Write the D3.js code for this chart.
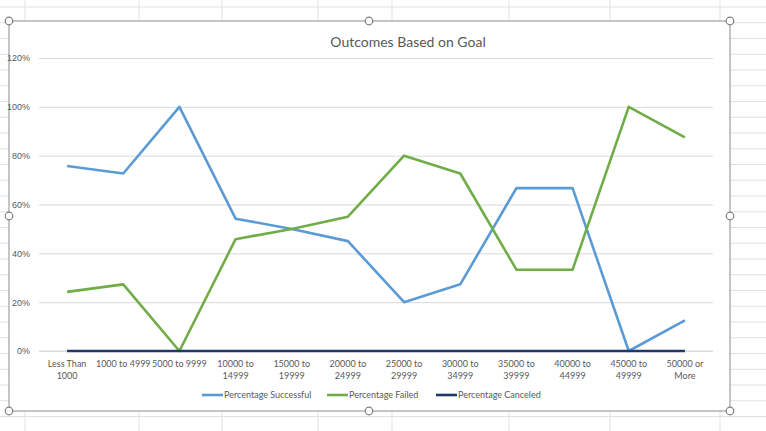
<!DOCTYPE html>
<html>
<head>
<meta charset="utf-8">
<script src="https://cdn.jsdelivr.net/npm/d3@7"></script>
<style>
  html, body { margin: 0; padding: 0; background: #fff; }
  svg { display: block; font-family: Lato, "Liberation Sans", sans-serif; }
</style>
</head>
<body>
<div id="chart"></div>
<script>
// Outcomes by goal bracket (percent)
const categories = ["Less Than 1000", "1000 to 4999", "5000 to 9999", "10000 to 14999",
    "15000 to 19999", "20000 to 24999", "25000 to 29999", "30000 to 34999",
    "35000 to 39999", "40000 to 44999", "45000 to 49999", "50000 or More"];
const tickLines = [["Less Than", "1000"], ["1000 to 4999"], ["5000 to 9999"], ["10000 to", "14999"],
    ["15000 to", "19999"], ["20000 to", "24999"], ["25000 to", "29999"], ["30000 to", "34999"],
    ["35000 to", "39999"], ["40000 to", "44999"], ["45000 to", "49999"], ["50000 or", "More"]];
const successful = [75.8, 72.7, 100, 54.2, 50, 45, 20, 27.3, 66.7, 66.7, 0, 12.5];
const failed = [24.2, 27.3, 0, 45.8, 50, 55, 80, 72.7, 33.3, 33.3, 100, 87.5];
const canceled = [0, 0, 0, 0, 0, 0, 0, 0, 0, 0, 0, 0];
const yTicks = [0, 20, 40, 60, 80, 100, 120];
const seriesNames = ["Percentage Successful", "Percentage Failed", "Percentage Canceled"];
const seriesColors = ["#5b9bd5", "#70ad47", "#203864"];

const W = 766, H = 431;
const svg = d3.select("#chart").append("svg")
    .attr("width", W)
    .attr("height", H);

// spreadsheet grid behind the chart
const rowLines = d3.range(7, H, 15.75);
const colLines = [25, 139, 222, 318, 392, 509, 610, 720];
svg.append("g").selectAll("line.row")
    .data(rowLines).enter().append("line")
    .attr("x1", 0).attr("x2", W)
    .attr("y1", d => d).attr("y2", d => d)
    .attr("stroke", "#e1e1e1").attr("stroke-width", 1);
svg.append("g").selectAll("line.col")
    .data(colLines).enter().append("line")
    .attr("x1", d => d).attr("x2", d => d)
    .attr("y1", 0).attr("y2", H)
    .attr("stroke", "#e1e1e1").attr("stroke-width", 1);

// chart frame
const frame = {x0: 9, y0: 21, x1: 730, y1: 411};
svg.append("rect")
    .attr("x", frame.x0).attr("y", frame.y0)
    .attr("width", frame.x1 - frame.x0).attr("height", frame.y1 - frame.y0)
    .attr("fill", "#fff").attr("stroke", "#a0a0a0").attr("stroke-width", 1.2);

const margin = {left: 39, right: 713, top: 58, bottom: 351};

const x = d3.scaleBand()
    .domain(categories)
    .range([margin.left, margin.right]);

const y = d3.scaleLinear()
    .domain([0, 120])
    .range([margin.bottom, margin.top]);

// Gridlines + Y axis
const yAxis = svg.append("g")
    .attr("transform", `translate(${margin.left},0)`)
    .call(d3.axisLeft(y).tickValues(yTicks).tickFormat(d => d + "%")
        .tickSize(-(margin.right - margin.left)).tickPadding(9));
yAxis.select(".domain").remove();
yAxis.selectAll(".tick line").attr("stroke", "#d9d9d9").attr("stroke-width", 1);
yAxis.selectAll(".tick text")
    .attr("fill", "#595959").attr("font-size", "9px");

// X axis line (category axis)
svg.append("line")
    .attr("x1", margin.left).attr("x2", margin.right)
    .attr("y1", y(0)).attr("y2", y(0))
    .attr("stroke", "#d9d9d9");

// X tick labels
const xl = svg.append("g").selectAll("text")
    .data(categories).enter().append("text")
    .attr("x", d => x(d) + x.bandwidth() / 2)
    .attr("y", 367)
    .attr("text-anchor", "middle")
    .attr("fill", "#595959")
    .attr("font-size", "9px");
xl.each(function(d, i) {
    d3.select(this).selectAll("tspan")
        .data(tickLines[i]).enter().append("tspan")
        .attr("x", x(d) + x.bandwidth() / 2)
        .attr("dy", (t, j) => j === 0 ? 0 : 11.5)
        .text(t => t);
});

// Lines
const line = d3.line()
    .x((d, i) => x(categories[i]) + x.bandwidth() / 2)
    .y(d => y(d));

[successful, failed, canceled].forEach((vals, k) => {
    svg.append("path")
        .datum(vals)
        .attr("fill", "none")
        .attr("stroke", seriesColors[k])
        .attr("stroke-width", 2.6)
        .attr("stroke-linejoin", "round")
        .attr("d", line);
});

// Title
svg.append("text")
    .attr("x", 408)
    .attr("y", 47)
    .attr("text-anchor", "middle")
    .attr("fill", "#595959")
    .attr("font-size", "14px")
    .text("Outcomes Based on Goal");

// Legend
const legendX = [202, 327, 436];
const lg = svg.append("g").selectAll("g")
    .data(seriesNames).enter().append("g")
    .attr("transform", (d, i) => `translate(${legendX[i]},395)`);
lg.append("line")
    .attr("x1", 0).attr("x2", 21)
    .attr("stroke", (d, i) => seriesColors[i])
    .attr("stroke-width", 2.6);
lg.append("text")
    .attr("x", 22)
    .attr("y", 3.3)
    .attr("fill", "#595959")
    .attr("font-size", "9px")
    .text(d => d);

// selection handles
const handles = [[frame.x0, frame.y0], [369, frame.y0], [frame.x1, frame.y0],
    [frame.x0, 216], [frame.x1, 216],
    [frame.x0, frame.y1], [369, frame.y1], [frame.x1, frame.y1]];
svg.append("g").selectAll("circle")
    .data(handles).enter().append("circle")
    .attr("cx", d => d[0]).attr("cy", d => d[1])
    .attr("r", 3.8)
    .attr("fill", "#fff")
    .attr("stroke", "#7f7f7f")
    .attr("stroke-width", 1.2);
</script>
</body>
</html>
